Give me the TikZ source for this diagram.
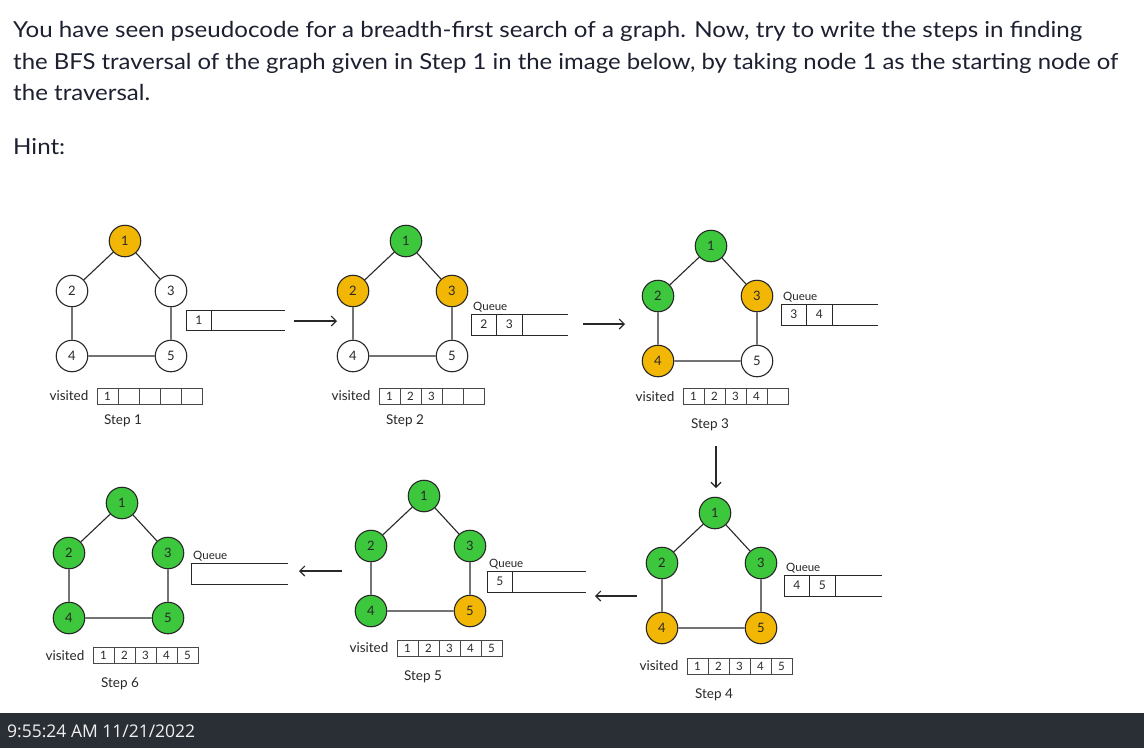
\documentclass[tikz,border=0pt]{standalone}
\usepackage{fontspec}
\setmainfont{Lato}
\newfontfamily\barfont{Open Sans}
\usetikzlibrary{arrows.meta,positioning}
\definecolor{vgreen}{RGB}{61,199,61}
\definecolor{vorange}{RGB}{242,183,5}
\definecolor{ink}{RGB}{40,40,40}
\definecolor{titleink}{RGB}{28,32,48}
\definecolor{barbg}{RGB}{42,46,53}
\definecolor{bartext}{RGB}{240,240,240}
% #1 prefix, #2 #3 position of node 2, #4..#8 fills of nodes 1..5
\newcommand\bfsgraph[8]{%
  \node[vert,fill=#4] (#1a) at (#2+53,#3-50) {1};
  \node[vert,fill=#5] (#1b) at (#2,#3) {2};
  \node[vert,fill=#6] (#1c) at (#2+99,#3) {3};
  \node[vert,fill=#7] (#1d) at (#2,#3+65) {4};
  \node[vert,fill=#8] (#1e) at (#2+99,#3+65) {5};
  \draw[edge] (#1a) -- (#1b) (#1a) -- (#1c) (#1b) -- (#1d) (#1c) -- (#1e) (#1d) -- (#1e);
}
% #1 prefix, #2 x left, #3 y centre, #4..#8 entries
\newcommand\visitedrow[8]{%
  \node[vcell] (#1v1) at (#2+10.5,#3) {#4};
  \node[vcell] (#1v2) at (#2+31.5,#3) {#5};
  \node[vcell] (#1v3) at (#2+52.5,#3) {#6};
  \node[vcell] (#1v4) at (#2+73.5,#3) {#7};
  \node[vcell] (#1v5) at (#2+94.5,#3) {#8};
  \node[lbl,left=8pt of #1v1] (#1vl) {visited};
}
% #1 prefix, #2 x left, #3 y top, #4 y bottom, #5 x right
\newcommand\queueframe[5]{%
  \coordinate (#1qtl) at (#2,#3);
  \coordinate (#1qbl) at (#2,#4);
  \coordinate (#1qtr) at (#5,#3);
  \coordinate (#1qbr) at (#5,#4);
  \draw[qline] (#1qtr) -- (#1qtl) -- (#1qbl) -- (#1qbr);
}
\newcommand\widetitle[2]{\resizebox{#1}{\height}{#2}}
\begin{document}
\begin{tikzpicture}[x=1pt,y=-1pt,
  vert/.style={circle,draw=ink,line width=1.1pt,minimum size=31.5pt,inner sep=0pt,font=\fontsize{13}{13}\selectfont,text=ink},
  edge/.style={draw=ink,line width=1.1pt},
  vcell/.style={draw=ink!85,line width=0.8pt,minimum width=21pt,minimum height=16pt,inner sep=0pt,font=\fontsize{11.5}{11.5}\selectfont,text=ink},
  qcell/.style={draw=ink,line width=1pt,minimum width=25.5pt,minimum height=21pt,inner sep=0pt,font=\fontsize{12}{12}\selectfont,text=ink},
  qline/.style={draw=ink,line width=1pt},
  lbl/.style={font=\fontsize{13.5}{13.5}\selectfont,text=ink,inner sep=0pt},
  qlbl/.style={font=\fontsize{11.5}{11.5}\selectfont,text=ink,inner sep=0pt,anchor=base west},
  stepflow/.style={draw=ink,line width=1.1pt,-{Straight Barb[length=5pt,width=10pt]}},
  titletext/.style={font=\fontsize{22}{22}\selectfont,text=titleink,anchor=base west,inner sep=0pt},
]
\useasboundingbox (0,0) rectangle (1144,748);
\fill[white] (0,0) rectangle (1144,748);

% title text
\node[titletext] (t1) at (13,37) {\widetitle{1069pt}{You have seen pseudocode for a breadth-first search of a graph. Now, try to write the steps in finding}};
\node[titletext] (t2) at (13,69) {\widetitle{1105pt}{the BFS traversal of the graph given in Step 1 in the image below, by taking node 1 as the starting node of}};
\node[titletext] (t3) at (13,100) {\widetitle{137pt}{the traversal.}};
\node[titletext] (t4) at (13,154) {\widetitle{52pt}{Hint:}};

% ---------- Step 1
\bfsgraph{s1}{72}{291}{vorange}{white}{white}{white}{white}
\queueframe{s1}{186}{310}{330}{285}
\node[qcell,minimum height=20pt] (s1q1) at (198.75,320) {1};
\visitedrow{s1}{97}{396}{1}{}{}{}{}
\node[lbl] (s1lab) at (123,421) {Step 1};

% ---------- Step 2
\bfsgraph{s2}{353}{291}{vgreen}{vorange}{vorange}{white}{white}
\queueframe{s2}{471}{314}{335}{568}
\node[qcell] (s2q1) at (483.75,324.5) {2};
\node[qcell] (s2q2) at (509.25,324.5) {3};
\node[qlbl] (s2ql) at (473,310.5) {Queue};
\visitedrow{s2}{379}{396}{1}{2}{3}{}{}
\node[lbl] (s2lab) at (405,421) {Step 2};

% ---------- Step 3
\bfsgraph{s3}{658}{296}{vgreen}{vgreen}{vorange}{vorange}{white}
\queueframe{s3}{781}{304}{325}{878}
\node[qcell] (s3q1) at (793.75,314.5) {3};
\node[qcell] (s3q2) at (819.25,314.5) {4};
\node[qlbl] (s3ql) at (783,300.5) {Queue};
\visitedrow{s3}{683}{396.5}{1}{2}{3}{4}{}
\node[lbl] (s3lab) at (710,425) {Step 3};

% ---------- Step 4
\bfsgraph{s4}{662}{563}{vgreen}{vgreen}{vgreen}{vorange}{vorange}
\queueframe{s4}{784}{575}{596}{882}
\node[qcell] (s4q1) at (796.75,585.5) {4};
\node[qcell] (s4q2) at (822.25,585.5) {5};
\node[qlbl] (s4ql) at (786,571.5) {Queue};
\visitedrow{s4}{687}{666}{1}{2}{3}{4}{5}
\node[lbl] (s4lab) at (714,695) {Step 4};

% ---------- Step 5
\bfsgraph{s5}{371}{546}{vgreen}{vgreen}{vgreen}{vgreen}{vorange}
\queueframe{s5}{487}{571}{592}{586}
\node[qcell] (s5q1) at (499.75,581.5) {5};
\node[qlbl] (s5ql) at (489,567.5) {Queue};
\visitedrow{s5}{397}{648}{1}{2}{3}{4}{5}
\node[lbl] (s5lab) at (423,677) {Step 5};

% ---------- Step 6
\bfsgraph{s6}{69}{553}{vgreen}{vgreen}{vgreen}{vgreen}{vgreen}
\queueframe{s6}{191}{563}{584}{288}
\node[qlbl] (s6ql) at (193,559.5) {Queue};
\visitedrow{s6}{93}{655.5}{1}{2}{3}{4}{5}
\node[lbl] (s6lab) at (120,684) {Step 6};

% ---------- arrows between steps
\coordinate (a12s) at (294,321);  \coordinate (a12e) at (337,321);
\coordinate (a23s) at (583,324);  \coordinate (a23e) at (625,324);
\coordinate (a34s) at (716,446);  \coordinate (a34e) at (716,488);
\coordinate (a45s) at (637,596);  \coordinate (a45e) at (595,596);
\coordinate (a56s) at (342,571);  \coordinate (a56e) at (299,571);
\draw[stepflow] (a12s) -- (a12e);
\draw[stepflow] (a23s) -- (a23e);
\draw[stepflow] (a34s) -- (a34e);
\draw[stepflow] (a45s) -- (a45e);
\draw[stepflow] (a56s) -- (a56e);

% ---------- bottom bar
\fill[barbg] (0,713) rectangle (1144,748);
\node[anchor=west,inner sep=0pt,text=bartext] (stamp) at (7,731) {\resizebox{188pt}{!}{\barfont 9:55:24 AM 11/21/2022}};
\end{tikzpicture}
\end{document}
